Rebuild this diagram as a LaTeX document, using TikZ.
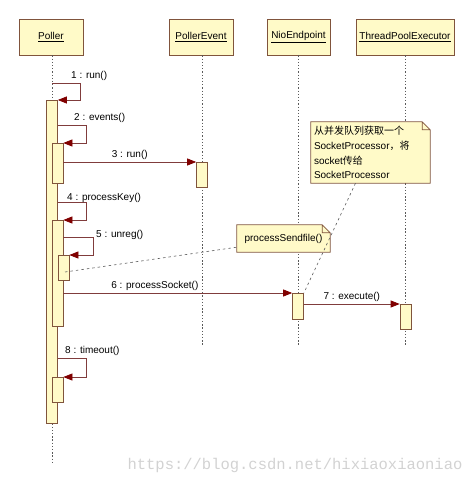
\documentclass[tikz,border=0pt]{standalone}
\usepackage{fontspec}
\setmainfont{Liberation Sans}
\newfontfamily\cjk{Noto Sans CJK SC}
\newfontfamily\wmfont{Liberation Mono}
\usepackage{xcolor}
\usetikzlibrary{arrows.meta,positioning,calc}
\definecolor{umlfill}{RGB}{255,250,200}
\definecolor{umlbrd}{RGB}{128,84,60}
\definecolor{msgline}{RGB}{128,60,60}
\definecolor{msgtip}{RGB}{128,0,0}
\definecolor{lifegray}{RGB}{90,90,90}

\begin{document}
\begin{tikzpicture}[x=1pt,y=-1pt,font=\fontsize{10}{12}\selectfont,
    hd/.style={draw=umlbrd,fill=umlfill,line width=0.8pt,minimum height=36pt,inner sep=0pt},
    act/.style={draw=umlbrd,fill=umlfill,line width=0.7pt,minimum width=11pt,inner sep=0pt,anchor=north},
    life/.style={lifegray,line width=0.9pt,dash pattern=on 1.3pt off 1.9pt},
    msg/.style={msgline,line width=0.7pt,-{Triangle[length=9pt,width=7pt,color=msgtip,fill=msgtip]}},
    lbl/.style={inner sep=1pt,anchor=south west,text=black},
    notebox/.style={fill=umlfill,inner sep=3pt,align=left},
    notelink/.style={lifegray,line width=0.6pt,dash pattern=on 2.5pt off 3pt}]
  \useasboundingbox (0,0) rectangle (474,484);
  % headers
  \node[hd,minimum width=64pt] (poller) at (51,37) {\underline{Poller}};
  \node[hd,minimum width=64pt] (pevent) at (201,37) {\underline{PollerEvent}};
  \node[hd,minimum width=63pt] (nio) at (298.5,37) {\underline{NioEndpoint}};
  \node[hd,minimum width=98pt] (tpe) at (405,37) {\underline{ThreadPoolExecutor}};
  % lifelines
  \draw[life] (poller.south -| 52,0) -- (52,463);
  \draw[life] (pevent.south -| 202,0) -- (202,345);
  \draw[life] (nio.south -| 298.5,0) -- (298.5,345);
  \draw[life] (tpe.south -| 405.5,0) -- (405.5,345);
  % activation bars
  \node[act,minimum height=323pt] (a0) at (52,100) {};
  \node[act,minimum height=40pt] (a1) at (57.5,143) {};
  \node[act,minimum height=106pt] (a2) at (57.5,220) {};
  \node[act,minimum height=25pt] (a3) at (63.5,255) {};
  \node[act,minimum height=25pt] (a4) at (57.5,377) {};
  \node[act,minimum height=25pt] (b1) at (202,162) {};
  \node[act,minimum height=26pt] (c1) at (298,293) {};
  \node[act,minimum height=25pt] (d1) at (405.5,304) {};
  % notes
  \node[notebox,minimum width=93pt,minimum height=27pt] (n1) at (283.5,238.5) {processSendfile()};
  \node[notebox,text width=113pt,minimum height=61pt,font=\fontsize{10}{14.7}\selectfont] (n2) at (370.5,152.5)
    {{\cjk 从并发队列获取一个}\\SocketProcessor{\cjk ，将}\\socket{\cjk 传给}\\SocketProcessor};
  \foreach \n in {n1,n2} {
    \fill[white] ($(\n.north east)+(-8,-0.5)$) -- ($(\n.north east)+(0.5,-0.5)$) -- ($(\n.north east)+(0.5,8)$) -- cycle;
    \draw[umlbrd,line width=0.7pt] (\n.north west) -- ($(\n.north east)+(-8,0)$) -- ($(\n.north east)+(0,8)$)
      -- (\n.south east) -- (\n.south west) -- cycle
      ($(\n.north east)+(-8,0)$) -- ($(\n.north east)+(-8,8)$) -- ($(\n.north east)+(0,8)$);
  }
  \draw[notelink] ($(a3.north)+(1.5,17)$) -- ($(n1.south west)+(0,-5)$);
  \draw[notelink] ($(n2.south)+(-15,0)$) -- (c1.north east);
  % messages
  \draw[msg] ($(a0.north)+(0,-17)$) -| ($(a0.north east)+(22.5,0)$) -- (a0.north east);
  \node[lbl] at (70,82) {1 : run()};
  \draw[msg] ($(a0.north east)+(0,25)$) -| ($(a1.north east)+(23,0)$) -- (a1.north east);
  \node[lbl] at (73,124) {2 : events()};
  \draw[msg] (a1.east |- b1.north) -- node[above,inner sep=2pt,text=black] {3 : run()} (b1.north west);
  \draw[msg] ($(a0.north east)+(0,102)$) -| ($(a2.north east)+(23,0)$) -- (a2.north east);
  \node[lbl] at (66,204) {4 : processKey()};
  \draw[msg] ($(a2.north east)+(0,17)$) -| ($(a3.north east)+(24,0)$) -- (a3.north east);
  \node[lbl] at (95,241) {5 : unreg()};
  \draw[msg] (a2.east |- c1.north) -- node[above,pos=0.4,inner sep=2pt,text=black] {6 : processSocket()} (c1.north west);
  \draw[msg] (c1.east |- d1.north) -- node[above,inner sep=2pt,text=black] {7 : execute()} (d1.north west);
  \draw[msg] ($(a0.north east)+(0,258)$) -| ($(a4.north east)+(23,0)$) -- (a4.north east);
  \node[lbl] at (64,357) {8 : timeout()};
  % watermark
  \node[gray!35,font=\wmfont\fontsize{15.5}{18}\selectfont] (wm) at (295,465) {https://blog.csdn.net/hixiaoxiaoniao};
\end{tikzpicture}
\end{document}
